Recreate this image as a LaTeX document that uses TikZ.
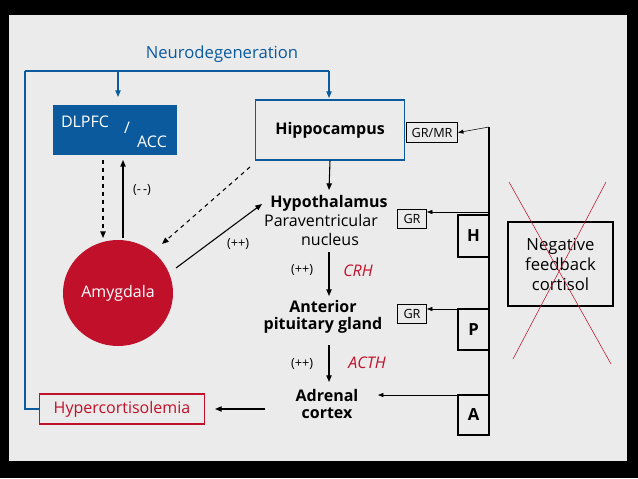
\documentclass[tikz,border=0pt]{standalone}
\usepackage{fontspec}
\setmainfont{Open Sans}
\usetikzlibrary{arrows.meta,shapes.geometric}
\definecolor{nblue}{HTML}{0B5A9E}
\definecolor{nred}{HTML}{C0102A}
\definecolor{bg}{HTML}{EBEBEB}
\begin{document}
\begin{tikzpicture}[x=0.75pt,y=-0.75pt,
  txt/.style={font=\fontsize{12}{13}\selectfont,inner sep=0pt},
  btxt/.style={font=\fontsize{12}{13}\selectfont\bfseries,inner sep=0pt,align=center},
  sm/.style={font=\fontsize{9.5}{10}\selectfont,inner sep=0pt},
  arr/.style={-{Triangle[length=5pt,width=4pt]},thick},
  barr/.style={-{Triangle[length=5pt,width=4pt]},thick,nblue},
  gr/.style={draw,thick,font=\fontsize{9.5}{10}\selectfont,inner sep=0pt,anchor=north west}]
\fill[black] (0,0) rectangle (638,478);
\fill[bg] (9,15) rectangle (627,461);
\useasboundingbox (0,0) rectangle (638,478);
% Neurodegeneration
\node[txt,text=nblue,font=\fontsize{12.5}{13}\selectfont] (neuro) at (222,54) {Neurodegeneration};
\coordinate (tl) at (25,71); \coordinate (tr) at (329,71); \coordinate (ta) at (118,71);
\draw[nblue,thick] (tl) -- (tr);
\draw[barr] (ta) -- (118,97);
\draw[barr] (tr) -- (329,98);
% DLPFC
\node[fill=nblue,minimum width=124*0.75pt,minimum height=50*0.75pt,inner sep=0pt] (dl) at (115,130) {};
\node[txt,text=white] (dlt) at (85,122) {DLPFC};
\node[txt,text=white] (sl) at (127,128) {/};
\node[txt,text=white] (acc) at (152,142) {ACC};
% Hippocampus
\node[draw=nblue,thick,fill=bg,minimum width=149*0.75pt,minimum height=60*0.75pt,btxt] (hip) at (330,130) {Hippocampus};
\node[gr,minimum width=51*0.75pt,minimum height=20*0.75pt] (grmr) at (406,122) {GR/MR};
% Amygdala
\node[ellipse,fill=nred,minimum width=110*0.75pt,minimum height=106*0.75pt,txt,text=white] (amy) at (118,293) {Amygdala};
\draw[arr,dashed] (103,160) -- (103,238);
\draw[arr] (123,238) -- (123,160);
\node[sm] (mm) at (142,190) {(-\,-)};
\draw[arr,dashed] (250,167) -- (162,244);
\draw[arr] (176,268) -- (262,204);
\node[sm] (pp1) at (238,244) {(++)};
% HPA
\node[btxt] (hyp) at (329,203) {Hypothalamus};
\node[txt] (pvn) at (321,220) {Paraventricular};
\node[txt] (nuc) at (330,239) {nucleus};
\draw[arr] (hip.south) -- (329,190);
\node[gr,minimum width=29*0.75pt,minimum height=19*0.75pt] (gr1) at (397,209) {GR};
\draw[arr] (329,252) -- (329,296);
\node[sm] (pp2) at (302,270) {(++)};
\node[txt,text=nred,font=\fontsize{12}{13}\selectfont\itshape] (crh) at (358,271) {CRH};
\node[btxt] (ant) at (323,306) {Anterior};
\node[btxt] (pit) at (323,325) {pituitary gland};
\node[gr,minimum width=29*0.75pt,minimum height=19*0.75pt] (gr2) at (397,304) {GR};
\draw[arr] (329,345) -- (329,382);
\node[sm] (pp3) at (302,364) {(++)};
\node[txt,text=nred,font=\fontsize{12}{13}\selectfont\itshape] (acth) at (367,363) {ACTH};
\node[btxt] (adr) at (327,395) {Adrenal};
\node[btxt] (cor) at (327,413) {cortex};
% Hypercortisolemia
\node[draw=nred,thick,fill=bg,minimum width=165*0.75pt,minimum height=30*0.75pt,txt,text=nred] (hyper) at (122,409) {Hypercortisolemia};
\draw[arr] (265,409) -- ([xshift=10*0.75pt]hyper.east);
\draw[nblue,thick] (tl) |- (hyper.west);
% feedback
\node[draw,thick,minimum width=31*0.75pt,minimum height=42*0.75pt,btxt,font=\fontsize{12.5}{13}\selectfont\bfseries] (H) at (473.5,236) {H};
\node[draw,thick,minimum width=31*0.75pt,minimum height=41*0.75pt,btxt,font=\fontsize{12.5}{13}\selectfont\bfseries] (P) at (473.5,329.5) {P};
\node[draw,thick,minimum width=31*0.75pt,minimum height=40*0.75pt,btxt,font=\fontsize{12.5}{13}\selectfont\bfseries] (A) at (473.5,415) {A};
\coordinate (ftop) at (489,127);
\draw[thick] (ftop) -- (489,435);
\draw[-{Triangle[length=4pt,width=3pt]}] (ftop) -- (grmr.east);
\draw[-{Triangle[length=4pt,width=3pt]}] (489,212) -- (427,212);
\draw[-{Triangle[length=4pt,width=3pt]}] (489,309) -- (427,309);
\draw[-{Triangle[length=4pt,width=3pt]}] (458,395) -- (378,395);
\node[draw,thick,minimum width=105*0.75pt,minimum height=84*0.75pt,align=center,txt,font=\fontsize{12.5}{15}\selectfont] (neg) at (560.5,264) {Negative\\feedback\\cortisol};
\draw[nred] (509,182) -- (611,364);
\draw[nred] (606,182) -- (513,359);
\end{tikzpicture}
\end{document}
